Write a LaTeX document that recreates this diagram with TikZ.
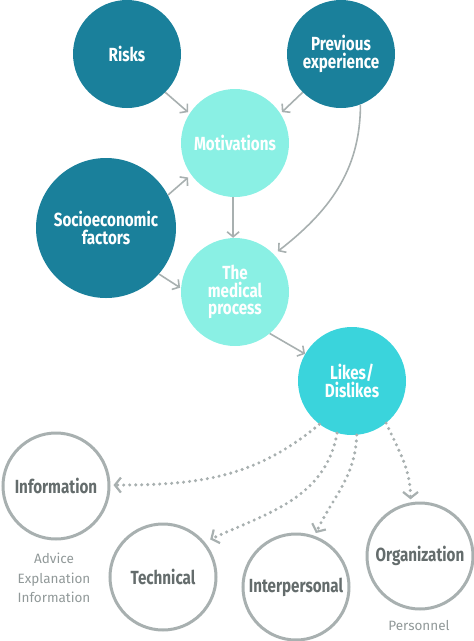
\documentclass[tikz,border=0pt]{standalone}
\usepackage{fontspec}
\setmainfont{Fira Sans}
\newfontfamily\condfont[FakeStretch=0.8]{Fira Sans}
\usetikzlibrary{arrows.meta}
\definecolor{darkteal}{RGB}{26,128,155}
\definecolor{mint}{RGB}{138,240,228}
\definecolor{aqua}{RGB}{58,212,220}
\definecolor{ringgray}{RGB}{168,176,176}
\definecolor{textgray}{RGB}{100,108,108}
\definecolor{subgray}{RGB}{145,153,153}
\begin{document}
\begin{tikzpicture}[x=1pt,y=-1pt,
  bubble/.style={circle,inner sep=0pt,minimum size=108pt,align=center,
    font=\condfont\bfseries\fontsize{19}{17.5}\selectfont},
  darkbubble/.style={bubble,fill=darkteal,text=white},
  lightbubble/.style={bubble,fill=mint,text=white},
  aquabubble/.style={bubble,fill=aqua,text=white},
  ring/.style={bubble,minimum size=106pt,draw=ringgray,line width=3pt,text=textgray},
  sublabel/.style={align=center,text=subgray,font=\fontsize{13.5}{19.5}\selectfont},
  link/.style={draw=ringgray,line width=1.6pt,-{Straight Barb[length=5pt,width=12pt]}},
  dotlink/.style={draw=ringgray,line width=3.4pt,line cap=round,dash pattern=on 0pt off 6pt,
    -{Straight Barb[length=6pt,width=15pt,line width=2.2pt]}}]
\useasboundingbox (0,0) rectangle (474,641);
% top layer
\node[darkbubble] (risks) at (127,54) {Risks};
\node[darkbubble] (prev) at (341,54) {Previous\\experience};
\node[lightbubble] (motiv) at (235,143) {Motivations};
\node[darkbubble,minimum size=140pt] (socio) at (106,228) {Socioeconomic\\factors};
\node[lightbubble] (medical) at (235,292) {The\\medical\\process};
\node[aquabubble] (likes) at (352,381) {Likes/\\Dislikes};
% bottom layer
\node[ring] (info) at (56,486) {Information};
\node[ring] (tech) at (163,577) {Technical};
\node[ring] (inter) at (296,587) {Interpersonal};
\node[ring] (org) at (420,556) {Organization};
\node[sublabel] (infosub) at (54,578) {Advice\\Explanation\\Information};
\node[sublabel] (orgsub) at (419,626) {Personnel};
% arrows
\draw[link,shorten >=2pt] (risks.-45) -- (motiv.147);
\draw[link,shorten >=2pt] (prev.-135) -- (motiv.33);
\draw[link,shorten >=4pt] (socio.28) -- (motiv.-144);
\draw[link,shorten >=1pt] (socio.-41) -- (medical.176);
\draw[link] (motiv.-92) -- (medical.92);
\draw[link,shorten >=5pt] (prev.-69) to[out=-90,in=38] (medical.44);
\draw[link] (medical.-50) -- (likes.150);
% dotted arrows
\draw[dotlink,shorten >=3pt] (likes.-127) to[out=-140,in=0] (info.1);
\draw[dotlink,shorten >=6pt] (likes.-106) to[out=-100,in=25] (tech.40);
\draw[dotlink,shorten >=3pt] (likes.-85) to[out=-92,in=65] (inter.70);
\draw[dotlink,shorten >=3pt] (likes.-51) to[out=-65,in=90] (org.100);
\end{tikzpicture}
\end{document}
